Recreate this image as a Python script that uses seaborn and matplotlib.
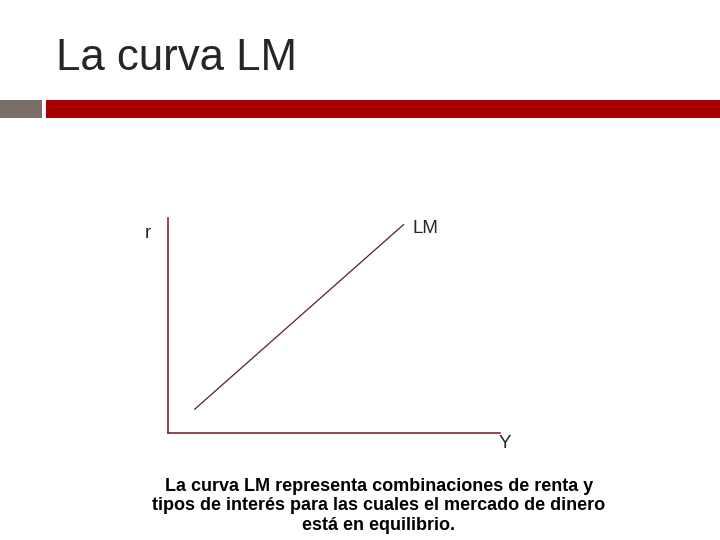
import numpy as np
import pandas as pd
import seaborn as sns
import matplotlib.pyplot as plt
from matplotlib.patches import Rectangle

# LM curve endpoints (Y, r)
renta = [0.8, 7.1]
interes = [1.1, 9.7]

titulo = "La curva LM"
pie = ("La curva LM representa combinaciones de renta y\n"
       "tipos de interés para las cuales el mercado de dinero\n"
       "está en equilibrio.")

sns.set_style("white")
plt.rcParams['font.family'] = ['Liberation Sans', 'DejaVu Sans']

fig = plt.figure(figsize=(7.2, 5.4), dpi=100)

# header
fig.text(0.078, 1 - 58/540, titulo, fontsize=31.5, color='#262626', va='center', ha='left')
fig.add_artist(Rectangle((0, 1 - 118/540), 42/720, 18/540, transform=fig.transFigure,
                         color='#7A6E66', lw=0))
fig.add_artist(Rectangle((46/720, 1 - 118/540), 1 - 46/720, 18/540, transform=fig.transFigure,
                         color='#A80000', lw=0))

ax = fig.add_axes([168/720, 1 - 433/540, 332/720, 215/540])
df = pd.DataFrame({'Y': renta, 'r': interes})
sns.lineplot(data=df, x='Y', y='r', ax=ax, color='#5A1E24', lw=0.9)
ax.set_xlim(0, 10)
ax.set_ylim(0, 10)
ax.set_xticks([])
ax.set_yticks([])
ax.set_xlabel('')
ax.set_ylabel('')
for s in ['top', 'right']:
    ax.spines[s].set_visible(False)
for s in ['left', 'bottom']:
    ax.spines[s].set_color('#7A2A30')
    ax.spines[s].set_linewidth(1.2)

fig.text(148/720, 1 - 233/540, 'r', fontsize=13.5, ha='center', va='center')
fig.text(425/720, 1 - 228/540, 'LM', fontsize=13.5, ha='center', va='center')
fig.text(505/720, 1 - 443/540, 'Y', fontsize=13.5, ha='center', va='center')

fig.text(379/720, 1 - 506/540, pie, fontsize=13, fontweight='bold', ha='center',
         va='center', linespacing=1.22, color='black')

fig.savefig('out.png', dpi=100)
